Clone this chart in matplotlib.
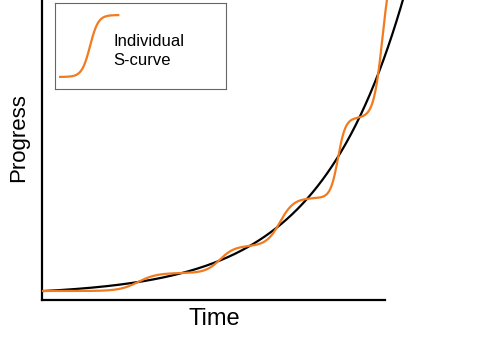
import numpy as np
import matplotlib
matplotlib.use('Agg')
import matplotlib.pyplot as plt

plt.rcParams['font.family'] = ['Liberation Sans', 'DejaVu Sans']

# values (time 0..10, progress 0..10)
step_times = [2.8, 5.19, 6.94, 8.63, 9.93]
step_widths = [0.27, 0.21, 0.2, 0.11, 0.13]
plateaus = [0.3, 0.9, 1.8, 3.4, 6.07, 11.5]
trend_base = 0.15
trend_scale = 0.1465
trend_rate = 0.4

orange = '#f27a1f'


def s_curves(t):
    p = np.full_like(t, plateaus[0])
    for i in range(len(step_times)):
        p += (plateaus[i + 1] - plateaus[i]) / (1 + np.exp(-(t - step_times[i]) / step_widths[i]))
    return p


fig = plt.figure(figsize=(5, 3.38), dpi=100)
ax = fig.add_axes([42 / 500, 38 / 338, 378 / 500, 300 / 338])

t = np.linspace(0, 11.02, 800)
ax.plot(t, trend_base + trend_scale * np.exp(trend_rate * t), color='black', lw=1.6, zorder=2)
ax.plot(t, s_curves(t), color=orange, lw=1.6, zorder=3)

ax.set_xlim(0, 11.02)
ax.set_ylim(0, 10)
ax.spines['top'].set_visible(False)
ax.spines['right'].set_visible(False)
ax.spines['bottom'].set_bounds(0, 10)
ax.spines['left'].set_linewidth(1.6)
ax.spines['bottom'].set_linewidth(1.6)
ax.set_xticks([])
ax.set_yticks([])

fig.text(19 / 500, 1 - 138 / 338, 'Progress', rotation=90, ha='center', va='center', fontsize=16)
fig.text(214 / 500, 1 - 319 / 338, 'Time', ha='center', va='center', fontsize=17)

# legend box with an S-curve icon
lg = fig.add_axes([55 / 500, 1 - 89 / 338, 171 / 500, 86 / 338])
lg.set_xlim(0, 1)
lg.set_ylim(0, 1)
lg.set_xticks([])
lg.set_yticks([])
for s in lg.spines.values():
    s.set_color('#666666')
    s.set_linewidth(0.8)
ix = np.linspace(0.03, 0.37, 200)
lg.plot(ix, 0.14 + 0.72 / (1 + np.exp(-(ix - 0.205) / 0.024)), color=orange, lw=1.6)
lg.text(0.34, 0.44, 'Individual\nS-curve', ha='left', va='center', fontsize=12, linespacing=1.35)

fig.savefig('out.png', dpi=100)
